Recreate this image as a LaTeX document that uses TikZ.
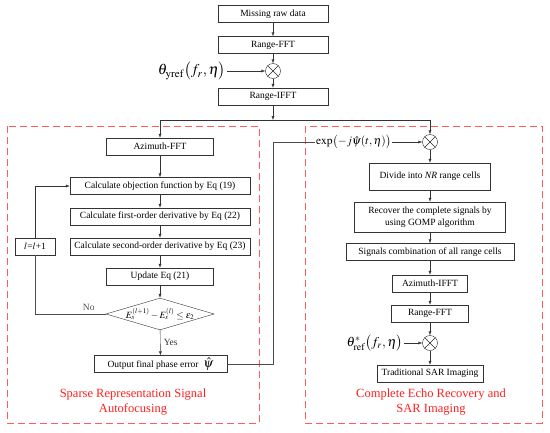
\documentclass[tikz,border=0pt]{standalone}
\usepackage{mathptmx}
\usepackage{fontspec}
\setmainfont{Liberation Serif}
\usetikzlibrary{arrows.meta, shapes.geometric}
\definecolor{dashred}{HTML}{FF5C5C}
\definecolor{titlered}{HTML}{FF2020}

\tikzset{
  block/.style={draw=black!80, thin, minimum height=17pt, inner sep=1pt,
    font=\fontsize{9.5}{12}\selectfont},
  mult/.style={draw=black!85, circle, minimum size=15pt, inner sep=0pt},
  decision/.style={draw=black!80, thin, diamond, aspect=3.4, inner sep=0pt,
    minimum width=107pt, minimum height=31pt, font=\fontsize{9.5}{12}\selectfont},
  flow/.style={-{Latex[length=4pt,width=3pt]}, black!80, thin},
  link/.style={black!70, thin},
  region/.style={dashred, line width=0.9pt, dash pattern=on 7pt off 4pt},
  caption/.style={titlered, font=\fontsize{12.5}{15}\selectfont, align=center},
  mathlbl/.style={inner sep=1pt},
  small/.style={font=\fontsize{9.5}{11}\selectfont}
}

\begin{document}
\begin{tikzpicture}[x=1pt, y=-1pt]
\useasboundingbox (0,0) rectangle (550,432);

% Dashed regions
\draw[region] (7,126) rectangle (259,423);
\draw[region] (305,126) rectangle (542,423);

% Common preprocessing
\node[block, minimum width=110pt] (raw) at (273,14) {Missing raw data};
\node[block, minimum width=110pt] (rfft) at (273,45) {Range-FFT};
\node[mult] (mult1) at (273,71) {};
\node[mathlbl, anchor=east, font=\fontsize{15}{17}\selectfont] (theta1) at (227,71) {$\theta_{\mathrm{yref}}\bigl(f_r,\eta\bigr)$};
\node[block, minimum width=110pt] (rifft) at (273,96.5) {Range-IFFT};
\coordinate (split) at (273,120);

% Sparse representation signal autofocusing
\node[block, minimum width=107pt] (azfft) at (160,146.5) {Azimuth-FFT};
\node[block, minimum width=180pt] (obj) at (160,186) {Calculate objection function by Eq (19)};
\node[block, minimum width=180pt] (first) at (160,216.5) {Calculate first-order derivative by Eq (22)};
\node[block, minimum width=180pt] (second) at (160,246.5) {Calculate second-order derivative by Eq (23)};
\node[block, minimum width=40pt] (lbox) at (35,246.5) {$l$=$l$+1};
\node[block, minimum width=107pt] (update) at (160,276.5) {Update Eq (21)};
\node[decision] (check) at (160,314) {$E_s^{(l+1)}-E_s^{(l)}\le\epsilon_2$};
\node[block, minimum width=133pt] (output) at (160.5,364)
  {Output final phase error \ {\fontsize{13}{13}\selectfont$\hat{\psi}$}};
\node[caption] (lcap) at (133,402) {Sparse Representation Signal\\Autofocusing};

% Complete echo recovery and SAR imaging
\node[mult] (mult2) at (430,142) {};
\node[mathlbl, anchor=west, font=\fontsize{11.5}{14}\selectfont] (expl) at (315,142) {$\exp\bigl(-j\hat{\psi}(t,\eta)\bigr)$};
\node[block, minimum width=121pt, minimum height=27pt] (divide) at (430,176.5) {Divide into \textit{NR} range cells};
\node[block, minimum width=151pt, minimum height=30pt, align=center] (recover) at (430,217)
  {Recover the complete signals by\\using GOMP algorithm};
\node[block, minimum width=168pt] (combine) at (430,252) {Signals combination of all range cells};
\node[block, minimum width=75pt] (azifft) at (430,283.5) {Azimuth-IFFT};
\node[block, minimum width=77pt] (rfft2) at (430,313.5) {Range-FFT};
\node[mult] (mult3) at (430,343) {};
\node[mathlbl, anchor=east, font=\fontsize{13.5}{16}\selectfont] (theta2) at (404,343) {$\theta^{*}_{\mathrm{ref}}\bigl(f_r,\eta\bigr)$};
\node[block, minimum width=106pt] (sar) at (430,373.5) {Traditional SAR Imaging};
\node[caption] (rcap) at (431,402) {Complete Echo Recovery and\\SAR Imaging};

% Crosses in the multipliers
\foreach \m in {mult1, mult2, mult3} {
  \draw[black!85] (\m.north west) -- (\m.south east) (\m.north east) -- (\m.south west);
}

% Connectors
\draw[flow] (raw) -- (rfft);
\draw[flow] (rfft) -- (mult1);
\draw[flow] (theta1) -- (mult1);
\draw[flow] (mult1) -- (rifft);
\draw[flow] (rifft) -- (split);
\draw[flow] (split) -| (azfft);
\draw[flow] (split) -| (mult2);

\draw[flow] (azfft) -- (obj);
\draw[flow] (obj) -- (first);
\draw[flow] (first) -- (second);
\draw[flow] (second) -- (update);
\draw[flow] (update) -- (check);
\draw[link] (check.west) -| node[small, above, pos=0.12] {No} (lbox.south);
\draw[flow] (lbox.north) |- (obj.west);
\draw[flow] (check) -- node[small, right] {Yes} (output);

\coordinate (bend) at (273,142);
\draw[link] (output.east) -| (bend) -- (expl.west);
\draw[flow] (expl) -- (mult2);
\draw[flow] (mult2) -- (divide);
\draw[flow] (divide) -- (recover);
\draw[flow] (recover) -- (combine);
\draw[flow] (combine) -- (azifft);
\draw[flow] (azifft) -- (rfft2);
\draw[flow] (rfft2) -- (mult3);
\draw[flow] (theta2) -- (mult3);
\draw[flow] (mult3) -- (sar);
\end{tikzpicture}
\end{document}
